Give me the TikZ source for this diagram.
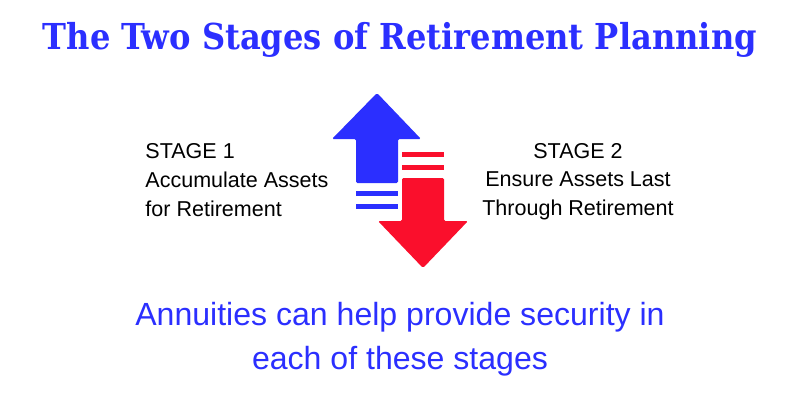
\documentclass[tikz,border=0pt]{standalone}
\usepackage{fontspec}
\setmainfont{Liberation Sans}
\newfontfamily\titlefont{DejaVu Serif Condensed}
\definecolor{stageblue}{HTML}{2B2FFF}
\definecolor{stagered}{HTML}{FA0F2C}
\tikzset{
	titletext/.style={text=stageblue, font=\titlefont\bfseries\fontsize{25.4}{30}\selectfont},
	stagetext/.style={text=black, align=left, font=\fontsize{15.3}{20.6}\selectfont},
	closetext/.style={text=stageblue, align=center, font=\fontsize{22.8}{31.2}\selectfont}
}
\begin{document}
\begin{tikzpicture}[x=0.025cm, y=-0.025cm]
	\useasboundingbox (0,0) rectangle (800,408);
	
	% Title
	\node[titletext] (title) at (400,39.5) {The Two Stages of Retirement Planning};
	
	% Up arrow
	\fill[stageblue, rounded corners=1pt] (377,93) -- (421,139) -- (398,139) -- (398,183) -- (356,183) -- (356,139) -- (332,139) -- cycle;
	\fill[stageblue] (356,191) rectangle (398,196);
	\fill[stageblue] (356,204) rectangle (398,209);
	
	% Down arrow
	\fill[stagered, rounded corners=1pt] (423,268) -- (378,221) -- (402,221) -- (402,178) -- (444,178) -- (444,221) -- (468,221) -- cycle;
	\fill[stagered] (402,152) rectangle (444,157);
	\fill[stagered] (402,165) rectangle (444,170);
	
	% Stage labels
	\node[stagetext, anchor=west] (stageone) at (140.5,180.3) {STAGE 1\\Accumulate Assets\\for Retirement};
	\node[stagetext, align=center] (stagetwo) at (578,181.7) {STAGE 2\\Ensure Assets Last\\Through Retirement};
	
	% Closing text
	\node[closetext] (closing) at (400,339) {Annuities can help provide security in\\each of these stages};
	
\end{tikzpicture}
\end{document}
